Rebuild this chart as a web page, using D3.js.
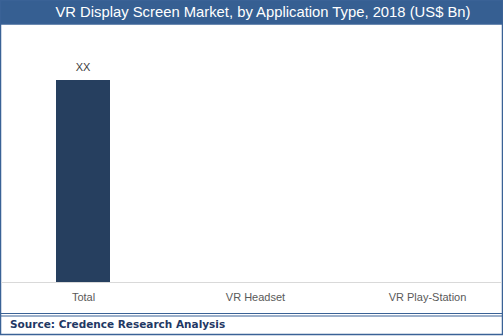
<!DOCTYPE html>
<html>
<head>
    <meta charset="UTF-8">
    <title>VR Display Screen Market</title>
    <style>
        body { margin: 0; background-color: #FFFFFF; }
        svg { display: block; }
    </style>
</head>
<body>
    <div id="graph-container"></div>
    <script src="https://cdn.jsdelivr.net/npm/d3@7"></script>
    <script>
        // chart data
        let categories = ["Total", "VR Headset", "VR Play-Station"];
        let values = [2.0, null, null];
        let valueLabels = ["XX", "", ""];
        let title = "VR Display Screen Market, by Application Type, 2018 (US$ Bn)";
        let source = "Source: Credence Research Analysis";

        let width = 503, height = 336;
        let blue = "#3A6296";

        let svg = d3.select("#graph-container").append("svg")
            .attr("width", width)
            .attr("height", height);

        // header band
        svg.append("rect")
            .attr("x", 0).attr("y", 0)
            .attr("width", width).attr("height", 24)
            .attr("fill", "#365F92");
        svg.append("text")
            .attr("x", 263).attr("y", 17)
            .attr("text-anchor", "middle")
            .attr("fill", "#FFFFFF")
            .style("font-family", "'Liberation Sans', Arial, sans-serif")
            .style("font-size", "14.8px")
            .text(title);

        // outer frame
        svg.append("rect")
            .attr("x", 0.5).attr("y", 0.5)
            .attr("width", width - 1).attr("height", height - 2)
            .attr("fill", "none")
            .attr("stroke", blue)
            .attr("stroke-width", 1.5);
        svg.append("line")
            .attr("x1", 0).attr("x2", width)
            .attr("y1", 24).attr("y2", 24)
            .attr("stroke", blue).attr("stroke-width", 1.5);

        // scales
        let x = d3.scalePoint()
            .domain(categories)
            .range([83, 427]);
        let y = d3.scaleLinear()
            .domain([0, 2.5])
            .range([282, 29.5]);
        let barWidth = 54;

        // axis line
        svg.append("line")
            .attr("x1", 1).attr("x2", width - 1)
            .attr("y1", 282.5).attr("y2", 282.5)
            .attr("stroke", "#D9D9D9");

        // bars
        let data = categories.map((c, i) => ({ name: c, value: values[i], label: valueLabels[i] }))
            .filter(d => d.value != null);
        svg.selectAll(".bar")
            .data(data)
            .enter()
            .append("rect")
            .attr("class", "bar")
            .attr("x", d => x(d.name) - barWidth / 2)
            .attr("y", d => y(d.value))
            .attr("width", barWidth)
            .attr("height", d => y(0) - y(d.value))
            .attr("fill", "#263F5F");

        svg.selectAll(".bar-label")
            .data(data)
            .enter()
            .append("text")
            .attr("class", "bar-label")
            .attr("x", d => x(d.name))
            .attr("y", d => y(d.value) - 9)
            .attr("text-anchor", "middle")
            .attr("fill", "#404040")
            .style("font-family", "'Liberation Sans', Arial, sans-serif")
            .style("font-size", "11px")
            .text(d => d.label);

        // category labels
        svg.append("g")
            .attr("transform", "translate(0,282)")
            .call(d3.axisBottom(x).tickSize(0).tickPadding(11))
            .call(g => g.select(".domain").remove())
            .selectAll("text")
            .attr("fill", "#595959")
            .style("font-family", "'Liberation Sans', Arial, sans-serif")
            .style("font-size", "11px");

        // footer double rule and source
        [313.5, 316].forEach(yy => {
            svg.append("line")
                .attr("x1", 0).attr("x2", width)
                .attr("y1", yy).attr("y2", yy)
                .attr("stroke", blue);
        });
        svg.append("text")
            .attr("x", 10).attr("y", 328)
            .attr("fill", "#1F3864")
            .style("font-family", "'DejaVu Sans', Verdana, sans-serif")
            .style("font-weight", "bold")
            .style("font-size", "10.5px")
            .text(source);
    </script>
</body>
</html>
